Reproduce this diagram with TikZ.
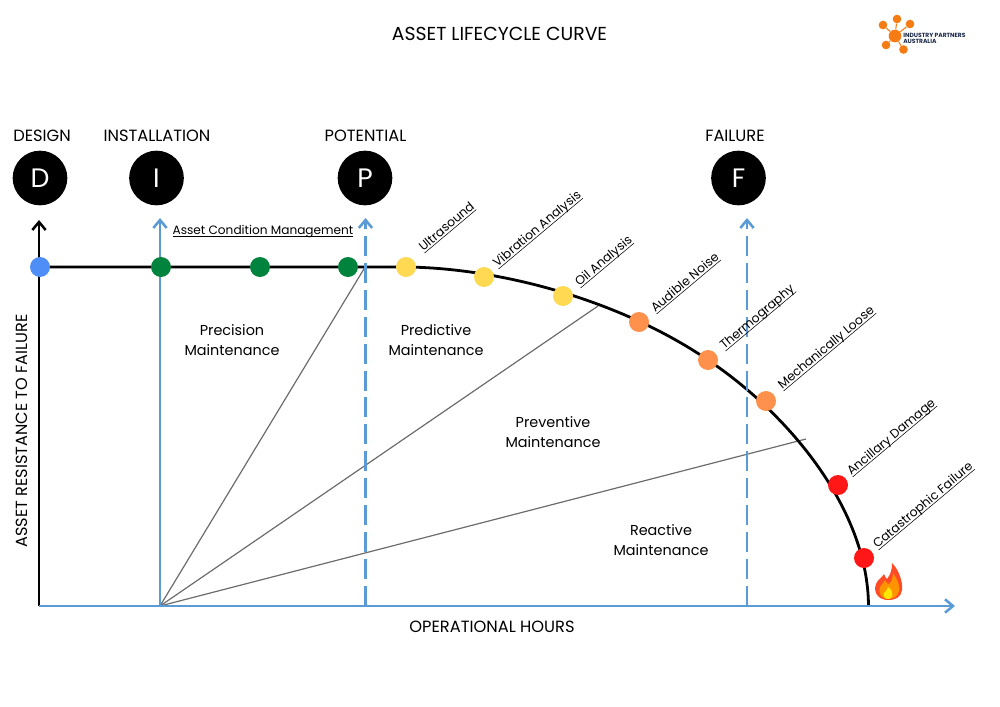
\documentclass[tikz,border=0pt]{standalone}
\usepackage{fontspec}
\setmainfont{Poppins}
\usetikzlibrary{arrows.meta}

\definecolor{lineblue}{HTML}{5B9BD5}
\definecolor{dotblue}{HTML}{4F8EF7}
\definecolor{dotgreen}{HTML}{00843D}
\definecolor{dotyellow}{HTML}{FFD952}
\definecolor{dotorange}{HTML}{FF914D}
\definecolor{dotred}{HTML}{FF1616}
\definecolor{logoorange}{HTML}{F57C14}
\definecolor{logonavy}{HTML}{1B2A4A}

\tikzset{
  axisline/.style={line width=1.9pt, -{Straight Barb[length=6pt, width=10pt, line width=1.9pt]}},
  blueline/.style={axisline, lineblue},
  blueguide/.style={blueline, dash pattern=on 15pt off 5.2pt},
  stageball/.style={circle, fill=black, inner sep=0, minimum size=41pt, text=white, font=\fontsize{20}{20}\selectfont},
  stagelabel/.style={font=\fontsize{12.2}{14}\selectfont},
  zonelabel/.style={align=center, font=\fontsize{10.8}{14.5}\selectfont},
  wedgeline/.style={draw=gray!85!black, line width=.9pt},
  dot/.style={circle, inner sep=0, minimum size=15pt},
  sensorlabel/.style={rotate=40, anchor=south west, inner sep=0, font=\fontsize{9.3}{11}\selectfont},
  logodot/.style={circle, fill=logoorange, inner sep=0, minimum size=6.5pt},
  logotext/.style={anchor=west, inner sep=0, text=logonavy, font=\fontsize{4.5}{5}\selectfont\bfseries},
}

\begin{document}
\begin{tikzpicture}[x=.75pt, y=-.75pt]
  \useasboundingbox (0,0) rectangle (1000,707);

  % Points of the curve
  \foreach \name/\x/\y in {start/40/267, install/161/267, green/260/267, potential/348/267,
      ultra/406/267, vib/484/277, oil/563/296, noise/639/322, thermo/708/360, loose/766/401,
      ancil/838/485, cata/864/558, finish/868.5/606, origin/160/606, wedgeA/364.5/268,
      wedgeB/598/306, wedgeC/806/439, xstart/39/606, xend/955/606, ystart/39/606, yend/39/220,
      iend/160/218, pstart/365.5/606, pend/365.5/218, fstart/747/606, fend/747/218}{%
    \coordinate (\name) at (\x, \y);
  };

  % Wedges between the maintenance zones
  \draw [wedgeline] (origin) -- (wedgeA);
  \draw [wedgeline] (origin) -- (wedgeB);
  \draw [wedgeline] (origin) -- (wedgeC);

  % The curve itself
  \draw [line width=2.1pt] (start) -- (potential) -- (ultra)
    .. controls (500,268) and (620,300) .. (thermo)
    .. controls (790,415) and (868,510) .. (finish);

  % Axes and guides
  \draw [axisline] (ystart) -- (yend);
  \draw [blueline] (origin) -- (iend);
  \draw [blueguide] (pstart) -- (pend);
  \draw [blueguide] (fstart) -- (fend);
  \draw [blueline] (xstart) -- (xend);

  % Stages
  \foreach \name/\x/\letter/\lx/\text in {ballD/40/D/42/DESIGN, ballI/156.5/I/157/INSTALLATION,
      ballP/365/P/365.5/POTENTIAL, ballF/738.5/F/735/FAILURE}{%
    \node [stageball] (\name) at (\x, 178) {\letter};
    \node [stagelabel] (\name text) at (\lx, 136) {\text};
  };

  % Dots on the curve
  \node [dot, fill=dotblue] (startdot) at (start) {};
  \foreach \name in {install, green, potential}{%
    \node [dot, fill=dotgreen] (\name dot) at (\name) {};
  };
  \foreach \name in {ultra, vib, oil}{%
    \node [dot, fill=dotyellow] (\name dot) at (\name) {};
  };
  \foreach \name in {noise, thermo, loose}{%
    \node [dot, fill=dotorange] (\name dot) at (\name) {};
  };
  \foreach \name in {ancil, cata}{%
    \node [dot, fill=dotred] (\name dot) at (\name) {};
  };

  % Labels of the dots
  \foreach \name/\dx/\dy/\text in {ultra/19/-13/Ultrasound, vib/15/-7/Vibration Analysis,
      oil/18/-7/Oil Analysis, noise/18/-7/Audible Noise, thermo/18/-8/Thermography,
      loose/18/-9/Mechanically Loose, ancil/15/-7/Ancillary Damage, cata/15/-7/Catastrophic Failure}{%
    \node [sensorlabel] (\name text) at ([shift={(\dx, \dy)}]\name) {\underline{\smash{\text}}};
  };

  % Zones and axis texts
  \node [zonelabel] (precision) at (232, 340) {Precision\\Maintenance};
  \node [zonelabel] (predictive) at (436, 340) {Predictive\\Maintenance};
  \node [zonelabel] (preventive) at (553, 432) {Preventive\\Maintenance};
  \node [zonelabel] (reactive) at (661, 540) {Reactive\\Maintenance};
  \node [font=\fontsize{9.1}{11}\selectfont] (acm) at (263, 236) {\underline{\smash{Asset Condition Management}}};
  \node [font=\fontsize{12.2}{14}\selectfont] (hours) at (492, 627) {OPERATIONAL HOURS};
  \node [font=\fontsize{12.1}{14}\selectfont, rotate=90] (resistance) at (22, 431) {ASSET RESISTANCE TO FAILURE};
  \node [font=\fontsize{14.1}{16}\selectfont] (title) at (499.5, 34) {ASSET LIFECYCLE CURVE};

  % Flame
  \fill [red!65!orange!85!white] (888,600) .. controls (878,600) and (873,592) .. (876,584)
    .. controls (878,579) and (881,579) .. (884,574) .. controls (885,577) and (886,578) .. (887,579)
    .. controls (891,574) and (892,569) .. (892,563) .. controls (899,570) and (903,582) .. (902,590)
    .. controls (901,597) and (896,600) .. (888,600);
  \fill [orange!85!yellow] (888,599) .. controls (881,599) and (878,593) .. (880,587)
    .. controls (882,583) and (884,583) .. (885,580) .. controls (887,584) and (888,584) .. (889,584)
    .. controls (892,581) and (893,577) .. (893,573) .. controls (898,580) and (900,586) .. (899,591)
    .. controls (898,596) and (894,599) .. (888,599);
  \fill [yellow!90!orange] (888,599) .. controls (884,599) and (883,595) .. (884,593)
    .. controls (886,591) and (887,590) .. (888,587) .. controls (891,589) and (893,592) .. (892.5,595)
    .. controls (892,598) and (890,599) .. (888,599);

  % Logo
  \node [logodot, minimum size=9.5pt] (hub) at (895, 36) {};
  \foreach \i/\x/\y in {1/883/25, 2/897/19, 3/910/24, 4/886/45, 5/903.5/49.5}{%
    \node [logodot] (spoke\i) at (\x, \y) {};
    \draw [logoorange, line width=.8pt] (hub) -- (spoke\i);
  };
  \node [logotext] (logoA) at (903, 35.5) {INDUSTRY PARTNERS};
  \node [logotext] (logoB) at (903, 41) {AUSTRALIA};
\end{tikzpicture}
\end{document}
